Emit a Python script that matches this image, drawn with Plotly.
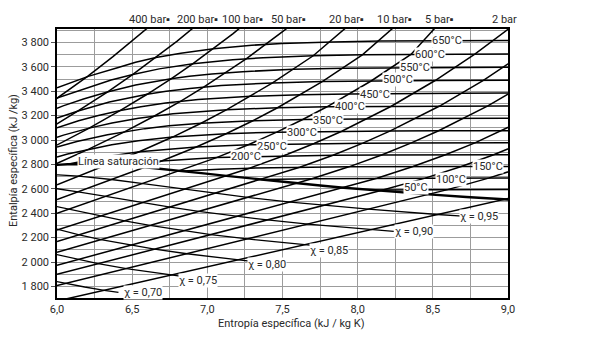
import plotly.graph_objects as go

# ---------------- data: (s [kJ/kg K], h [kJ/kg]) ----------------
# isobars
ISOBAR_400 = [(5.7862, 3154.4), (6.0135, 3350.4), (6.2035, 3521.6), (6.3701, 3681.0), (6.6606, 3978.3)]
ISOBAR_200 = [(5.9056, 3060.7), (6.1401, 3238.2), (6.3348, 3393.0), (6.5048, 3537.6), (6.7993, 3810.4), (7.0534, 4069.8)]
ISOBAR_100 = [(5.9459, 2924.0), (6.2141, 3097.5), (6.4219, 3242.4), (6.5995, 3375.1), (6.7585, 3502.0),
              (6.9045, 3625.8), (7.1693, 3870.0), (7.4085, 4114.5)]
ISOBAR_50 = [(5.9737, 2794.2), (6.2110, 2925.7), (6.4516, 3069.3), (6.6483, 3196.7), (6.8210, 3317.2),
             (6.9781, 3434.7), (7.2605, 3666.9), (7.5136, 3900.3), (7.7458, 4137.7)]
ISOBAR_20 = [(6.0, 2633.7), (6.3390, 2798.3), (6.5475, 2903.3), (6.7684, 3024.2), (6.9583, 3137.7),
             (7.1292, 3248.4), (7.4337, 3468.3), (7.7043, 3690.7), (7.9200, 3918.2)]
ISOBAR_10 = [(6.0, 2512.1), (6.5850, 2777.1), (6.6955, 2828.3), (6.9265, 2943.1), (7.1246, 3051.6),
             (7.3029, 3158.2), (7.4670, 3264.5), (7.7642, 3479.1), (8.0311, 3698.6), (8.2400, 3923.5)]
ISOBAR_5 = [(6.0, 2399.3), (6.8207, 2748.1), (7.0610, 2855.8), (7.2725, 2961.0), (7.4614, 3064.6),
            (7.6346, 3168.1), (7.7956, 3272.4), (8.0893, 3483.8), (8.3544, 3701.5), (8.5200, 3925.7)]
ISOBAR_2 = [(6.0, 2262.9), (7.1269, 2706.2), (7.2810, 2769.1), (7.5081, 2870.7), (7.7100, 2971.2),
            (7.8941, 3072.1), (8.2236, 3276.7), (8.5153, 3487.7), (8.7793, 3704.8), (9.0221, 3927.4)]
ISOBAR_1 = [(6.0, 2168.3), (7.3588, 2674.9), (7.6148, 2776.6), (7.8356, 2875.5), (8.0346, 2974.5),
            (8.2172, 3074.5), (8.5452, 3278.6), (8.8362, 3488.7), (9.0999, 3705.6)]
ISOBAR_05 = [(6.0, 2080.5), (7.5930, 2645.2), (7.6953, 2682.4), (7.9413, 2780.2), (8.1592, 2877.7),
             (8.3568, 2976.2), (8.5387, 3075.8), (8.8659, 3279.3), (9.1566, 3489.3)]
ISOBAR_02 = [(6.0, 1973.4), (7.9072, 2608.9), (8.1280, 2686.5), (8.3680, 2782.3), (8.5840, 2879.0),
             (8.7800, 2977.0), (8.9614, 3076.5), (9.1290, 3177.0)]
ISOBAR_01 = [(6.0, 1898.5), (8.1488, 2583.9), (8.1741, 2592.0), (8.4489, 2687.5), (8.6892, 2783.0),
             (8.9049, 2879.6), (9.1015, 2977.4)]
ISOBAR_004 = [(6.0, 1806.8), (8.4746, 2554.4), (8.5978, 2593.5), (8.8708, 2687.8), (9.1110, 2783.2)]
ISOBAR_001 = [(6.0, 1680.4), (8.9749, 2513.7), (9.0500, 2535.0)]

# isotherms (superheated part)
ISOTHERM_650 = [(6.0, 3428.0), (6.2078, 3521.6), (6.4077, 3594.4), (6.5229, 3637.4), (6.6582, 3675.9),
                (6.8233, 3712.1), (7.0408, 3748.1), (7.2957, 3776.8), (7.4939, 3790.5), (7.8300, 3804.3),
                (8.1553, 3810.8), (8.4783, 3813.6), (8.9023, 3815.8), (9.0, 3816.0)]
ISOTHERM_600 = [(6.0, 3343.2), (6.2374, 3444.2), (6.3602, 3491.4), (6.5048, 3537.6), (6.6796, 3583.1),
                (6.9045, 3625.8), (7.1693, 3658.8), (7.3706, 3674.9), (7.7043, 3690.7), (8.0311, 3698.6),
                (8.3544, 3701.5), (8.7793, 3704.8), (9.0, 3705.3)]
ISOTHERM_550 = [(6.0, 3259.9), (6.0403, 3279.7), (6.1764, 3335.6), (6.3348, 3393.0), (6.5230, 3450.4),
                (6.7585, 3502.0), (6.8800, 3521.8), (7.0302, 3541.3), (7.2345, 3560.3), (7.5718, 3579.8),
                (7.9020, 3588.5), (8.2259, 3592.7), (9.0, 3597.0)]
ISOTHERM_500 = [(6.0, 3179.5), (6.1401, 3238.2), (6.3480, 3310.8), (6.4651, 3343.6), (6.5995, 3375.1),
                (6.7266, 3399.5), (6.8826, 3423.1), (7.0922, 3446.0), (7.2359, 3457.2), (7.4337, 3468.3),
                (7.7642, 3479.1), (8.0893, 3483.8), (8.5153, 3487.7), (9.0, 3489.2)]
ISOTHERM_450 = [(6.0, 3099.3), (6.1434, 3157.9), (6.2749, 3201.5), (6.4219, 3242.4), (6.5579, 3273.3),
                (6.7219, 3302.9), (6.9386, 3331.2), (7.2866, 3358.2), (7.6209, 3371.3), (7.9450, 3377.5),
                (8.6900, 3383.6), (9.0, 3384.5)]
ISOTHERM_400 = [(6.0, 3022.7), (6.0433, 3040.0), (6.2141, 3097.5), (6.3658, 3139.4), (6.5432, 3178.3),
                (6.7714, 3214.5), (7.1292, 3248.4), (7.4670, 3264.5), (7.7956, 3272.4), (8.2236, 3276.7),
                (8.5452, 3278.6), (9.0, 3279.3)]
ISOTHERM_350 = [(6.0, 2942.6), (6.1321, 2988.1), (6.3357, 3043.9), (6.5843, 3093.3), (6.7449, 3116.1),
                (6.9583, 3137.7), (7.3029, 3158.2), (7.6346, 3168.1), (8.3900, 3176.0), (9.0, 3177.5)]
ISOTHERM_300 = [(6.0, 2860.4), (6.0703, 2885.6), (6.3639, 2961.7), (6.5412, 2994.3), (6.7684, 3024.2),
                (7.1246, 3051.6), (7.4614, 3064.6), (7.8941, 3072.1), (8.2172, 3074.5), (8.5387, 3075.8),
                (9.0, 3076.6)]
ISOTHERM_250 = [(6.0716, 2801.0), (6.2893, 2856.5), (6.5475, 2903.3), (6.9265, 2943.1), (7.2725, 2961.0),
                (7.7100, 2971.2), (8.0346, 2974.5), (8.3568, 2976.2), (9.0, 2977.3)]
ISOTHERM_200 = [(6.4302, 2792.0), (6.6955, 2828.3), (7.0610, 2855.8), (7.5081, 2870.7), (7.8356, 2875.5),
                (8.1592, 2877.7), (8.9049, 2879.6), (9.0, 2879.8)]
ISOTHERM_150 = [(6.8371, 2745.9), (6.9306, 2752.8), (7.0792, 2761.2), (7.2810, 2769.1), (7.6148, 2776.6),
                (7.9413, 2780.2), (8.6892, 2783.0), (9.0, 2783.4)]
ISOTHERM_100 = [(7.3549, 2675.6), (7.3610, 2675.8), (7.6953, 2682.4), (8.4489, 2687.5), (9.0, 2688.0)]
ISOTHERM_50 = [(8.0748, 2591.3), (8.1741, 2592.0), (9.0, 2594.0)]

# saturation line (x = 1)
SATURATION = [(5.9737, 2794.2), (6.0696, 2801.4), (6.1856, 2803.2), (6.3390, 2798.3), (6.4448, 2791.0),
              (6.5850, 2777.1), (6.7071, 2762.8), (6.8207, 2748.1), (6.9916, 2724.9), (7.1269, 2706.2),
              (7.2231, 2693.1), (7.3588, 2674.9), (7.5930, 2645.2), (7.7675, 2624.6), (7.9072, 2608.9),
              (8.1488, 2583.9), (8.2748, 2571.6), (8.4746, 2554.4), (8.7226, 2532.9), (8.9749, 2513.7),
              (9.1556, 2500.9)]

# constant quality lines
QUALITY_095 = [(5.9060, 2715.3), (6.0086, 2713.5), (6.1444, 2703.8), (6.3627, 2676.4), (6.5727, 2642.7),
               (6.8471, 2596.1), (7.0560, 2562.0), (7.2679, 2530.0), (7.5534, 2491.0), (7.7738, 2464.3),
               (8.0720, 2432.8), (8.5315, 2389.5), (8.6980, 2375.9)]
QUALITY_090 = [(5.9498, 2609.3), (6.0318, 2596.4), (6.1403, 2575.6), (6.3247, 2537.3), (6.5672, 2486.1),
               (6.7532, 2449.2), (6.9428, 2414.7), (7.1997, 2373.2), (7.3988, 2344.7), (7.6694, 2311.1),
               (8.0880, 2265.3), (8.2400, 2250.8)]
QUALITY_085 = [(5.9180, 2474.9), (6.0000, 2452.9), (6.0767, 2431.9), (6.2874, 2376.0), (6.4504, 2336.3),
               (6.6177, 2299.5), (6.8459, 2255.3), (7.0239, 2225.1), (7.2668, 2189.4), (7.6446, 2141.0),
               (7.7823, 2125.8)]
QUALITY_080 = [(5.9276, 2292.2), (6.0076, 2265.9), (6.1476, 2223.4), (6.2926, 2184.3), (6.4922, 2137.4),
               (6.6489, 2105.5), (6.8642, 2067.8), (7.2011, 2016.8), (7.3245, 2000.7)]
QUALITY_075 = [(5.9675, 2069.0), (6.0090, 2057.1), (6.1384, 2019.5), (6.2739, 1985.9), (6.4616, 1946.2),
               (6.7577, 1892.6), (6.8667, 1875.7)]
QUALITY_070 = [(5.9600, 1849.1), (6.0589, 1824.5), (6.1840, 1795.1), (6.3142, 1768.4), (6.4089, 1750.6)]

# tick labels
X_TICKS = [6.0, 6.5, 7.0, 7.5, 8.0, 8.5, 9.0]
X_TICKTEXT = ["6,0", "6,5", "7,0", "7,5", "8,0", "8,5", "9,0"]
Y_TICKS = [1800, 2000, 2200, 2400, 2600, 2800, 3000, 3200, 3400, 3600, 3800]
Y_TICKTEXT = ["1 800", "2 000", "2 200", "2 400", "2 600", "2 800", "3 000", "3 200", "3 400", "3 600", "3 800"]

FONT = "Roboto, Arial, sans-serif"
TXT = "#2a2a2a"
FS = 11

fig = go.Figure()


def add_line(pts, width=1.5):
    fig.add_trace(go.Scatter(x=[p[0] for p in pts], y=[p[1] for p in pts], mode="lines",
                             line=dict(color="black", width=width), hoverinfo="skip",
                             showlegend=False))


for line in [ISOBAR_400, ISOBAR_200, ISOBAR_100, ISOBAR_50, ISOBAR_20, ISOBAR_10, ISOBAR_5, ISOBAR_2,
             ISOBAR_1, ISOBAR_05, ISOBAR_02, ISOBAR_01, ISOBAR_004, ISOBAR_001]:
    add_line(line, 1.5)
for line in [ISOTHERM_650, ISOTHERM_600, ISOTHERM_550, ISOTHERM_500, ISOTHERM_450, ISOTHERM_400,
             ISOTHERM_350, ISOTHERM_300, ISOTHERM_250, ISOTHERM_200, ISOTHERM_150, ISOTHERM_100, ISOTHERM_50]:
    add_line(line, 1.5)
for line in [QUALITY_095, QUALITY_090, QUALITY_085, QUALITY_080, QUALITY_075, QUALITY_070]:
    add_line(line, 1.3)
add_line(SATURATION, 2.4)

annotations = []


def label(x, y, text, xanchor="center", bg="white", size=FS, xref="x", yref="y"):
    annotations.append(dict(x=x, y=y, xref=xref, yref=yref, text=text, showarrow=False,
                            xanchor=xanchor, yanchor="middle", bgcolor=bg, borderpad=0,
                            font=dict(family=FONT, size=size, color=TXT)))


# isotherm labels
for (x, y, t) in [(8.592, 3814, "650°C"), (8.481, 3703, "600°C"), (8.381, 3593, "550°C"),
                  (8.268, 3492, "500°C"), (8.115, 3375, "450°C"), (7.949, 3273, "400°C"),
                  (7.800, 3164, "350°C"), (7.633, 3060, "300°C"), (7.430, 2945, "250°C"),
                  (7.254, 2863, "200°C"), (8.870, 2782, "150°C"), (8.618, 2678, "100°C"),
                  (8.388, 2609, "50°C")]:
    label(x, y, t)

# quality labels
for (x, y, t) in [(8.804, 2377, "χ = 0,95"), (8.375, 2248, "χ = 0,90"), (7.806, 2098, "χ = 0,85"),
                  (7.400, 1976, "χ = 0,80"), (6.941, 1847, "χ = 0,75"), (6.575, 1749, "χ = 0,70")]:
    label(x, y, t)

label(6.409, 2828, "Línea saturación")

# right-hand pressure labels
for (y, t) in [(3648, "1 bar"), (3396, "0,5 bar"), (3140, "0,2 bar"), (2945, "0,1 bar"),
               (2754, "0,04 bar"), (2549, "0,01 bar")]:
    label(9.027, y, t, xanchor="left", bg="rgba(0,0,0,0)")

# top pressure labels (paper y above plot)
for (x, t) in [(6.612, "400 bar▪"), (6.933, "200 bar▪"), (7.234, "100 bar▪"), (7.543, "50 bar▪"),
               (7.929, "20 bar▪"), (8.248, "10 bar▪"), (8.544, "5 bar▪"), (8.980, "2 bar")]:
    annotations.append(dict(x=x, y=1.037, xref="x", yref="paper", text=t, showarrow=False,
                            xanchor="center", yanchor="middle",
                            font=dict(family=FONT, size=FS, color=TXT)))

# axis titles
annotations.append(dict(x=7.563, y=-0.093, xref="x", yref="paper", text="Entropía específica (kJ / kg K)",
                        showarrow=False, xanchor="center", yanchor="middle",
                        font=dict(family=FONT, size=FS, color=TXT)))
annotations.append(dict(x=-0.095, y=0.51, xref="paper", yref="paper", text="Entalpía específica (kJ /kg)",
                        showarrow=False, textangle=-90, xanchor="center", yanchor="middle",
                        font=dict(family=FONT, size=FS, color=TXT)))

GRID = "#9c9c9c"
fig.update_layout(
    width=600, height=342,
    margin=dict(l=57, r=92, t=29, b=44),
    paper_bgcolor="white", plot_bgcolor="white",
    annotations=annotations,
    xaxis=dict(range=[6.0, 9.0], tickvals=X_TICKS, ticktext=X_TICKTEXT, showgrid=True,
               gridcolor=GRID, gridwidth=1.2, zeroline=False, showline=True, linecolor="black",
               linewidth=1.5, mirror=True, ticks="", tickfont=dict(family=FONT, size=FS, color=TXT),
               minor=dict(tickmode="linear", tick0=6.0, dtick=0.25, showgrid=True, gridcolor=GRID,
                          gridwidth=1.2)),
    yaxis=dict(range=[1705, 3910], tickvals=Y_TICKS, ticktext=Y_TICKTEXT, showgrid=True,
               gridcolor=GRID, gridwidth=1.2, zeroline=False, showline=True, linecolor="black",
               linewidth=1.5, mirror=True, ticks="outside", ticklen=4, tickcolor="#555",
               tickfont=dict(family=FONT, size=FS, color=TXT),
               minor=dict(tickmode="linear", tick0=1800, dtick=100, showgrid=True, gridcolor=GRID,
                          gridwidth=1.2)),
)

fig.write_html("out.html")
